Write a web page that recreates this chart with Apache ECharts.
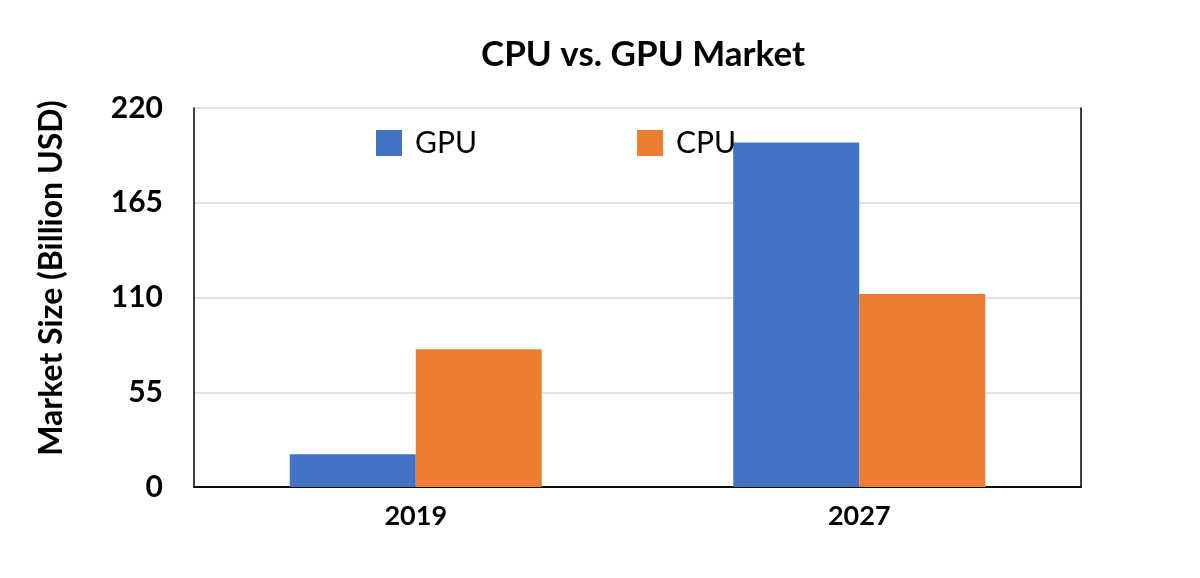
<!DOCTYPE html>
<html>
<head>
<meta charset="utf-8">
<script src="https://cdn.jsdelivr.net/npm/echarts@6/dist/echarts.min.js"></script>
<style>
  html, body { margin: 0; padding: 0; background: #fff; }
  #main { width: 1200px; height: 578px; }
</style>
</head>
<body>
<div id="main"></div>
<script>
var years = ['2019', '2027'];
var gpuValues = [19, 200];
var cpuValues = [80, 112];
var yTicks = [0, 55, 110, 165, 220];

var chart = echarts.init(document.getElementById('main'));

chart.setOption({
  backgroundColor: '#fff',
  animation: false,
  textStyle: { fontFamily: 'Lato' },
  title: {
    text: 'CPU vs. GPU Market',
    left: 638,
    top: 32,
    textAlign: 'center',
    textStyle: { fontSize: 35, fontWeight: 'bold', color: '#000', fontFamily: 'Lato' }
  },
  legend: {
    left: 371,
    top: 123,
    icon: 'rect',
    itemWidth: 26,
    itemHeight: 26,
    itemGap: 160,
    textStyle: { fontSize: 30, color: '#000', fontFamily: 'Lato', padding: [0, 0, 0, 8] },
    data: ['GPU', 'CPU']
  },
  grid: {
    left: 194,
    right: 119,
    top: 108,
    bottom: 91
  },
  graphic: [{
    type: 'text',
    x: 52,
    y: 278,
    rotation: Math.PI / 2,
    style: {
      text: 'Market Size (Billion USD)',
      fontSize: 32,
      fontWeight: 'bold',
      fontFamily: 'Lato',
      fill: '#000',
      textAlign: 'center',
      textVerticalAlign: 'middle'
    }
  }],
  xAxis: [{
    type: 'category',
    data: years,
    axisLine: { lineStyle: { color: '#000', width: 1.5 } },
    axisTick: { show: false },
    axisLabel: { fontSize: 27, fontWeight: 'bold', color: '#000', margin: 16, fontFamily: 'Lato' }
  }, {
    // top frame line
    type: 'category',
    position: 'top',
    data: years,
    axisLine: { lineStyle: { color: '#000', width: 1.5 } },
    axisTick: { show: false },
    axisLabel: { show: false }
  }],
  yAxis: [{
    type: 'value',
    min: yTicks[0],
    max: yTicks[yTicks.length - 1],
    interval: 55,
    axisLine: { show: true, lineStyle: { color: '#000', width: 1.5 } },
    axisTick: { show: false },
    axisLabel: { fontSize: 30, fontWeight: 'bold', color: '#000', margin: 31, fontFamily: 'Lato' },
    splitLine: { lineStyle: { color: '#d9d9d9', width: 1.5 } }
  }, {
    // right frame line
    type: 'value',
    position: 'right',
    min: yTicks[0],
    max: yTicks[yTicks.length - 1],
    interval: 55,
    axisLine: { show: true, lineStyle: { color: '#000', width: 1.5 } },
    axisTick: { show: false },
    axisLabel: { show: false },
    splitLine: { show: false }
  }],
  series: [
    {
      name: 'GPU',
      type: 'bar',
      data: gpuValues,
      barWidth: 126,
      barGap: '0%',
      itemStyle: { color: '#4472C4' }
    },
    {
      name: 'CPU',
      type: 'bar',
      data: cpuValues,
      barWidth: 126,
      barGap: '0%',
      itemStyle: { color: '#ED7D31' }
    }
  ]
});
</script>
</body>
</html>
